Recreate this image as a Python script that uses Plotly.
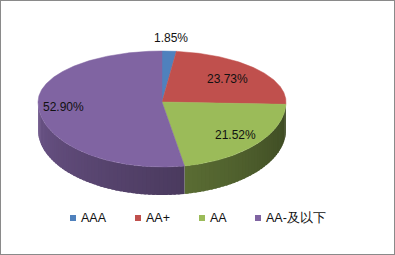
import numpy as np
import plotly.graph_objects as go

categories = ["AAA", "AA+", "AA", "AA-及以下"]
values = [1.85, 23.73, 21.52, 52.90]
labels = ["1.85%", "23.73%", "21.52%", "52.90%"]
colors = ["#4F81BD", "#C0504D", "#9BBB59", "#8064A2"]

# geometry of the 3-D pie (pixel coordinates)
CX, CY, A, BU, BL, DEPTH = 162, 102, 124, 51, 65, 28
label_r = [1.25, 0.70, 0.78, 0.80]


def ellipse(theta_deg):
    t = np.radians(np.asarray(theta_deg, dtype=float))
    c = np.cos(t)
    b = np.where(c > 0, BU, BL)
    return CX + A * np.sin(t), CY - b * c


def hex2rgb(h):
    h = h.lstrip("#")
    return tuple(int(h[i:i + 2], 16) for i in (0, 2, 4))


def shade(h, f):
    r, g, b = hex2rgb(h)
    return "rgb(%d,%d,%d)" % (r * f, g * f, b * f)


fig = go.Figure()

total = sum(values)
starts = np.cumsum([0] + values[:-1]) / total * 360
ends = np.cumsum(values) / total * 360

# sides (front half only), drawn as overlapping bands for a smooth gradient
for s, e, col in zip(starts, ends, colors):
    lo, hi = max(s, 90), min(e, 270)
    if hi <= lo:
        continue
    n = max(1, int(np.ceil((hi - lo) / 2.0)))
    edges = np.linspace(lo, hi, n + 1)
    for a0, a1 in zip(edges[:-1], edges[1:]):
        a1e = min(a1 + 1.2, hi)
        th = np.linspace(a0, a1e, 5)
        x, y = ellipse(th)
        xs = np.concatenate([x, x[::-1]])
        ys = np.concatenate([y, (y + DEPTH)[::-1]])
        tm = ((a0 + a1) / 2 - 90) / 180
        f = 0.38 + 0.46 * tm
        c = shade(col, f)
        fig.add_trace(go.Scatter(x=xs, y=ys, mode="lines", fill="toself",
                                 fillcolor=c, line=dict(width=0),
                                 hoverinfo="skip", showlegend=False))

# top faces
for s, e, col, cat in zip(starts, ends, colors, categories):
    th = np.linspace(s, e, max(3, int((e - s) * 2)))
    x, y = ellipse(th)
    xs = np.concatenate([[CX], x, [CX]])
    ys = np.concatenate([[CY], y, [CY]])
    fig.add_trace(go.Scatter(x=xs, y=ys, mode="lines", fill="toself",
                             fillcolor=col, line=dict(color=col, width=0.5),
                             name=cat, hoverinfo="skip", showlegend=False))

# data labels
for s, e, lab, r in zip(starts, ends, labels, label_r):
    m = np.radians((s + e) / 2)
    c = np.cos(m)
    b = BU if c > 0 else BL
    fig.add_annotation(x=CX + A * np.sin(m) * r, y=CY - b * c * r, text=lab,
                       showarrow=False, font=dict(family="Liberation Sans", size=12, color="#111111"))

# legend
leg_x = [73, 138, 202, 258]
for lx, col, cat in zip(leg_x, colors, categories):
    fig.add_trace(go.Scatter(x=[lx], y=[218], mode="markers",
                             marker=dict(symbol="square", size=6, color=col),
                             hoverinfo="skip", showlegend=False))
    fig.add_annotation(x=lx + 6, y=218, text=cat, showarrow=False, xanchor="left",
                       font=dict(family="Liberation Sans", size=12.5, color="#111111"))

fig.add_shape(type="rect", xref="paper", yref="paper", x0=0, y0=0, x1=1, y1=1,
              line=dict(color="#8a8a8a", width=2))

fig.update_layout(
    width=395, height=255, margin=dict(l=0, r=0, t=0, b=0),
    paper_bgcolor="white", plot_bgcolor="white",
    xaxis=dict(range=[0, 395], visible=False, fixedrange=True),
    yaxis=dict(range=[255, 0], visible=False, fixedrange=True),
    showlegend=False,
)

fig.write_html("out.html")
